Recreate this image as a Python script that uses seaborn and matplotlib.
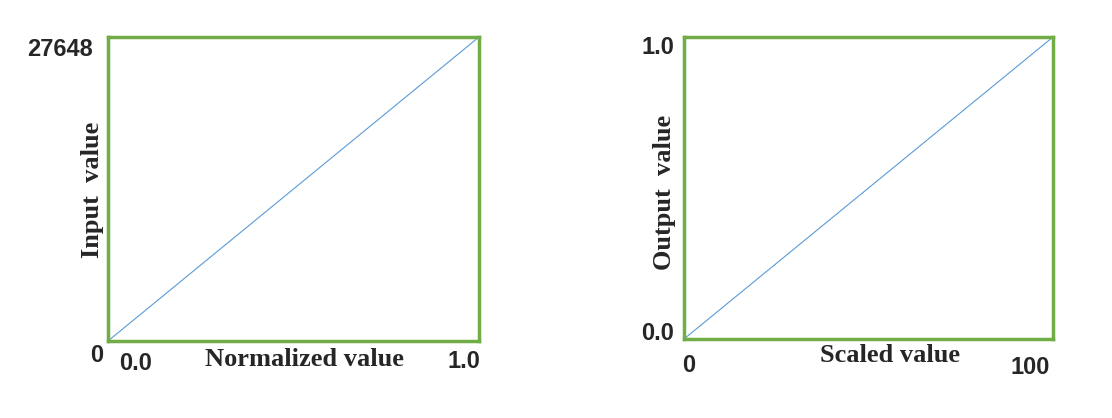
import matplotlib.pyplot as plt
import seaborn as sns
import pandas as pd

# data
norm_x = [0.0, 1.0]
input_y = [0, 27648]
scaled_x = [0, 100]
output_y = [0.0, 1.0]

sns.set_style("white")
plt.rcParams['font.family'] = ['Liberation Sans', 'DejaVu Sans']

W, H = 1112, 418
fig = plt.figure(figsize=(W / 100, H / 100), dpi=100)
green = '#70AD47'
blue = '#5B9BD5'
tick_kw = dict(fontsize=17, fontweight='bold', family='Liberation Sans')
lab_kw = dict(fontsize=19, fontweight='bold', family='Liberation Serif')


def make_ax(x0, x1, ytop, ybot):
    ax = fig.add_axes([x0 / W, 1 - ybot / H, (x1 - x0) / W, (ybot - ytop) / H])
    for s in ax.spines.values():
        s.set_color(green)
        s.set_linewidth(2.5)
    return ax


def ftext(x, y, s, **kw):
    fig.text(x / W, 1 - y / H, s, ha='center', va='center', **kw)


ax1 = make_ax(108, 479, 37, 341)
sns.lineplot(data=pd.DataFrame({'x': norm_x, 'y': input_y}), x='x', y='y',
             ax=ax1, color=blue, linewidth=0.8)
ax1.set_xlim(norm_x[0], norm_x[-1])
ax1.set_ylim(input_y[0], input_y[-1])
ax1.set_xticks([])
ax1.set_yticks([])
ax1.set_xlabel('')
ax1.set_ylabel('')
ftext(60, 50, str(input_y[-1]), **tick_kw)
ftext(97, 356, str(input_y[0]), **tick_kw)
ftext(136, 363, f'{norm_x[0]:.1f}', **tick_kw)
ftext(464, 362, f'{norm_x[-1]:.1f}', **tick_kw)
ftext(304, 360, 'Normalized value', **lab_kw)
ftext(93, 190, 'Input  value', rotation=90, **lab_kw)

ax2 = make_ax(684, 1053, 37, 339)
sns.lineplot(data=pd.DataFrame({'x': scaled_x, 'y': output_y}), x='x', y='y',
             ax=ax2, color=blue, linewidth=0.8)
ax2.set_xlim(scaled_x[0], scaled_x[-1])
ax2.set_ylim(output_y[0], output_y[-1])
ax2.set_xticks([])
ax2.set_yticks([])
ax2.set_xlabel('')
ax2.set_ylabel('')
ftext(658, 47, f'{output_y[-1]:.1f}', **tick_kw)
ftext(658, 334, f'{output_y[0]:.1f}', **tick_kw)
ftext(689, 365, str(scaled_x[0]), **tick_kw)
ftext(1030, 368, str(scaled_x[-1]), **tick_kw)
ftext(890, 356, 'Scaled value', **lab_kw)
ftext(665, 192, 'Output  value', rotation=90, **lab_kw)

fig.savefig('out.png', dpi=100, facecolor='white')
